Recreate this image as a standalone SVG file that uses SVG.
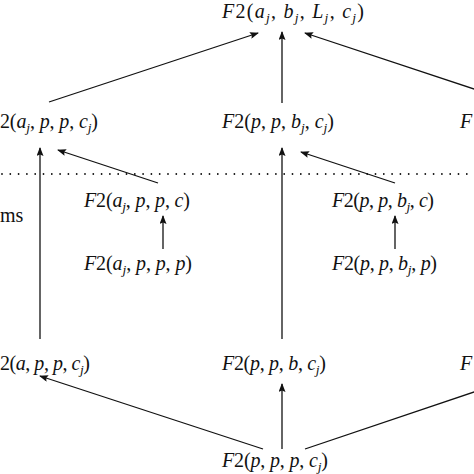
<svg xmlns="http://www.w3.org/2000/svg" width="474" height="474" viewBox="0 0 474 474">
<style>
text{font-family:"Liberation Serif","DejaVu Serif",serif;font-size:20px;fill:#111}
.i{font-style:italic}
.s{font-style:italic;font-size:13.5px}
.c line{stroke:#111;stroke-width:1.3;fill:none}
.a{marker-end:url(#ah)}
</style>
<defs>
<marker id="ah" markerUnits="userSpaceOnUse" markerWidth="9" markerHeight="7" refX="8" refY="3.5" orient="auto">
<path d="M0,0 L9,3.5 L0,7 L1.5,3.5 z" fill="#111"/>
</marker>
</defs>
<rect width="474" height="474" fill="#fff"/>
<line x1="2" y1="174" x2="474" y2="174" stroke="#111" stroke-width="1.8" stroke-linecap="round" stroke-dasharray="0 8.3"/>
<g class="c" id="connectors">
<line class="a" x1="49" y1="102" x2="258" y2="33"/>
<line class="a" x1="282" y1="103" x2="282" y2="32"/>
<line class="a" x1="480" y1="91" x2="305" y2="33"/>
<line class="a" x1="40" y1="339" x2="40" y2="148"/>
<line class="a" x1="158" y1="183" x2="58" y2="150"/>
<line class="a" x1="163" y1="249" x2="163" y2="216"/>
<line class="a" x1="282" y1="339" x2="282" y2="148"/>
<line class="a" x1="395" y1="183" x2="301" y2="152"/>
<line class="a" x1="395" y1="249" x2="395" y2="216"/>
<line class="a" x1="263" y1="449" x2="40" y2="376"/>
<line class="a" x1="282" y1="449" x2="282" y2="384"/>
<line x1="305" y1="449" x2="480" y2="390"/>
</g>
<g id="n_top"><text x="222" y="17.5" textLength="142"><tspan class="i">F</tspan>2(<tspan class="i">a</tspan><tspan class="s" dy="4">j</tspan><tspan dy="-4">, </tspan><tspan class="i">b</tspan><tspan class="s" dy="4">j</tspan><tspan dy="-4">, </tspan><tspan class="i">L</tspan><tspan class="s" dy="4">j</tspan><tspan dy="-4">, </tspan><tspan class="i">c</tspan><tspan class="s" dy="4">j</tspan><tspan dy="-4">)</tspan></text></g>
<g id="n_r2_left"><text x="0" y="128" textLength="98">2(<tspan class="i">a</tspan><tspan class="s" dy="4">j</tspan><tspan dy="-4">, </tspan><tspan class="i">p</tspan>, <tspan class="i">p</tspan>, <tspan class="i">c</tspan><tspan class="s" dy="4">j</tspan><tspan dy="-4">)</tspan></text></g>
<g id="n_r2_mid"><text x="222" y="128" textLength="112"><tspan class="i">F</tspan>2(<tspan class="i">p</tspan>, <tspan class="i">p</tspan>, <tspan class="i">b</tspan><tspan class="s" dy="4">j</tspan><tspan dy="-4">, </tspan><tspan class="i">c</tspan><tspan class="s" dy="4">j</tspan><tspan dy="-4">)</tspan></text></g>
<g id="n_r2_right"><text x="460" y="128" class="i">F</text></g>
<g id="n_r3_left"><text x="84" y="207" textLength="106"><tspan class="i">F</tspan>2(<tspan class="i">a</tspan><tspan class="s" dy="4">j</tspan><tspan dy="-4">, </tspan><tspan class="i">p</tspan>, <tspan class="i">p</tspan>, <tspan class="i">c</tspan>)</text></g>
<g id="n_r3_right"><text x="332" y="207" textLength="102"><tspan class="i">F</tspan>2(<tspan class="i">p</tspan>, <tspan class="i">p</tspan>, <tspan class="i">b</tspan><tspan class="s" dy="4">j</tspan><tspan dy="-4">, </tspan><tspan class="i">c</tspan>)</text></g>
<g id="lbl_ms"><text x="0" y="222">ms</text></g>
<g id="n_r4_left"><text x="84" y="270" textLength="108"><tspan class="i">F</tspan>2(<tspan class="i">a</tspan><tspan class="s" dy="4">j</tspan><tspan dy="-4">, </tspan><tspan class="i">p</tspan>, <tspan class="i">p</tspan>, <tspan class="i">p</tspan>)</text></g>
<g id="n_r4_right"><text x="332" y="270" textLength="105"><tspan class="i">F</tspan>2(<tspan class="i">p</tspan>, <tspan class="i">p</tspan>, <tspan class="i">b</tspan><tspan class="s" dy="4">j</tspan><tspan dy="-4">, </tspan><tspan class="i">p</tspan>)</text></g>
<g id="n_r5_left"><text x="0" y="370" textLength="90">2(<tspan class="i">a</tspan>, <tspan class="i">p</tspan>, <tspan class="i">p</tspan>, <tspan class="i">c</tspan><tspan class="s" dy="4">j</tspan><tspan dy="-4">)</tspan></text></g>
<g id="n_r5_mid"><text x="222" y="370" textLength="104"><tspan class="i">F</tspan>2(<tspan class="i">p</tspan>, <tspan class="i">p</tspan>, <tspan class="i">b</tspan>, <tspan class="i">c</tspan><tspan class="s" dy="4">j</tspan><tspan dy="-4">)</tspan></text></g>
<g id="n_r5_right"><text x="460" y="370" class="i">F</text></g>
<g id="n_bottom"><text x="222" y="467" textLength="106"><tspan class="i">F</tspan>2(<tspan class="i">p</tspan>, <tspan class="i">p</tspan>, <tspan class="i">p</tspan>, <tspan class="i">c</tspan><tspan class="s" dy="4">j</tspan><tspan dy="-4">)</tspan></text></g>
</svg>
